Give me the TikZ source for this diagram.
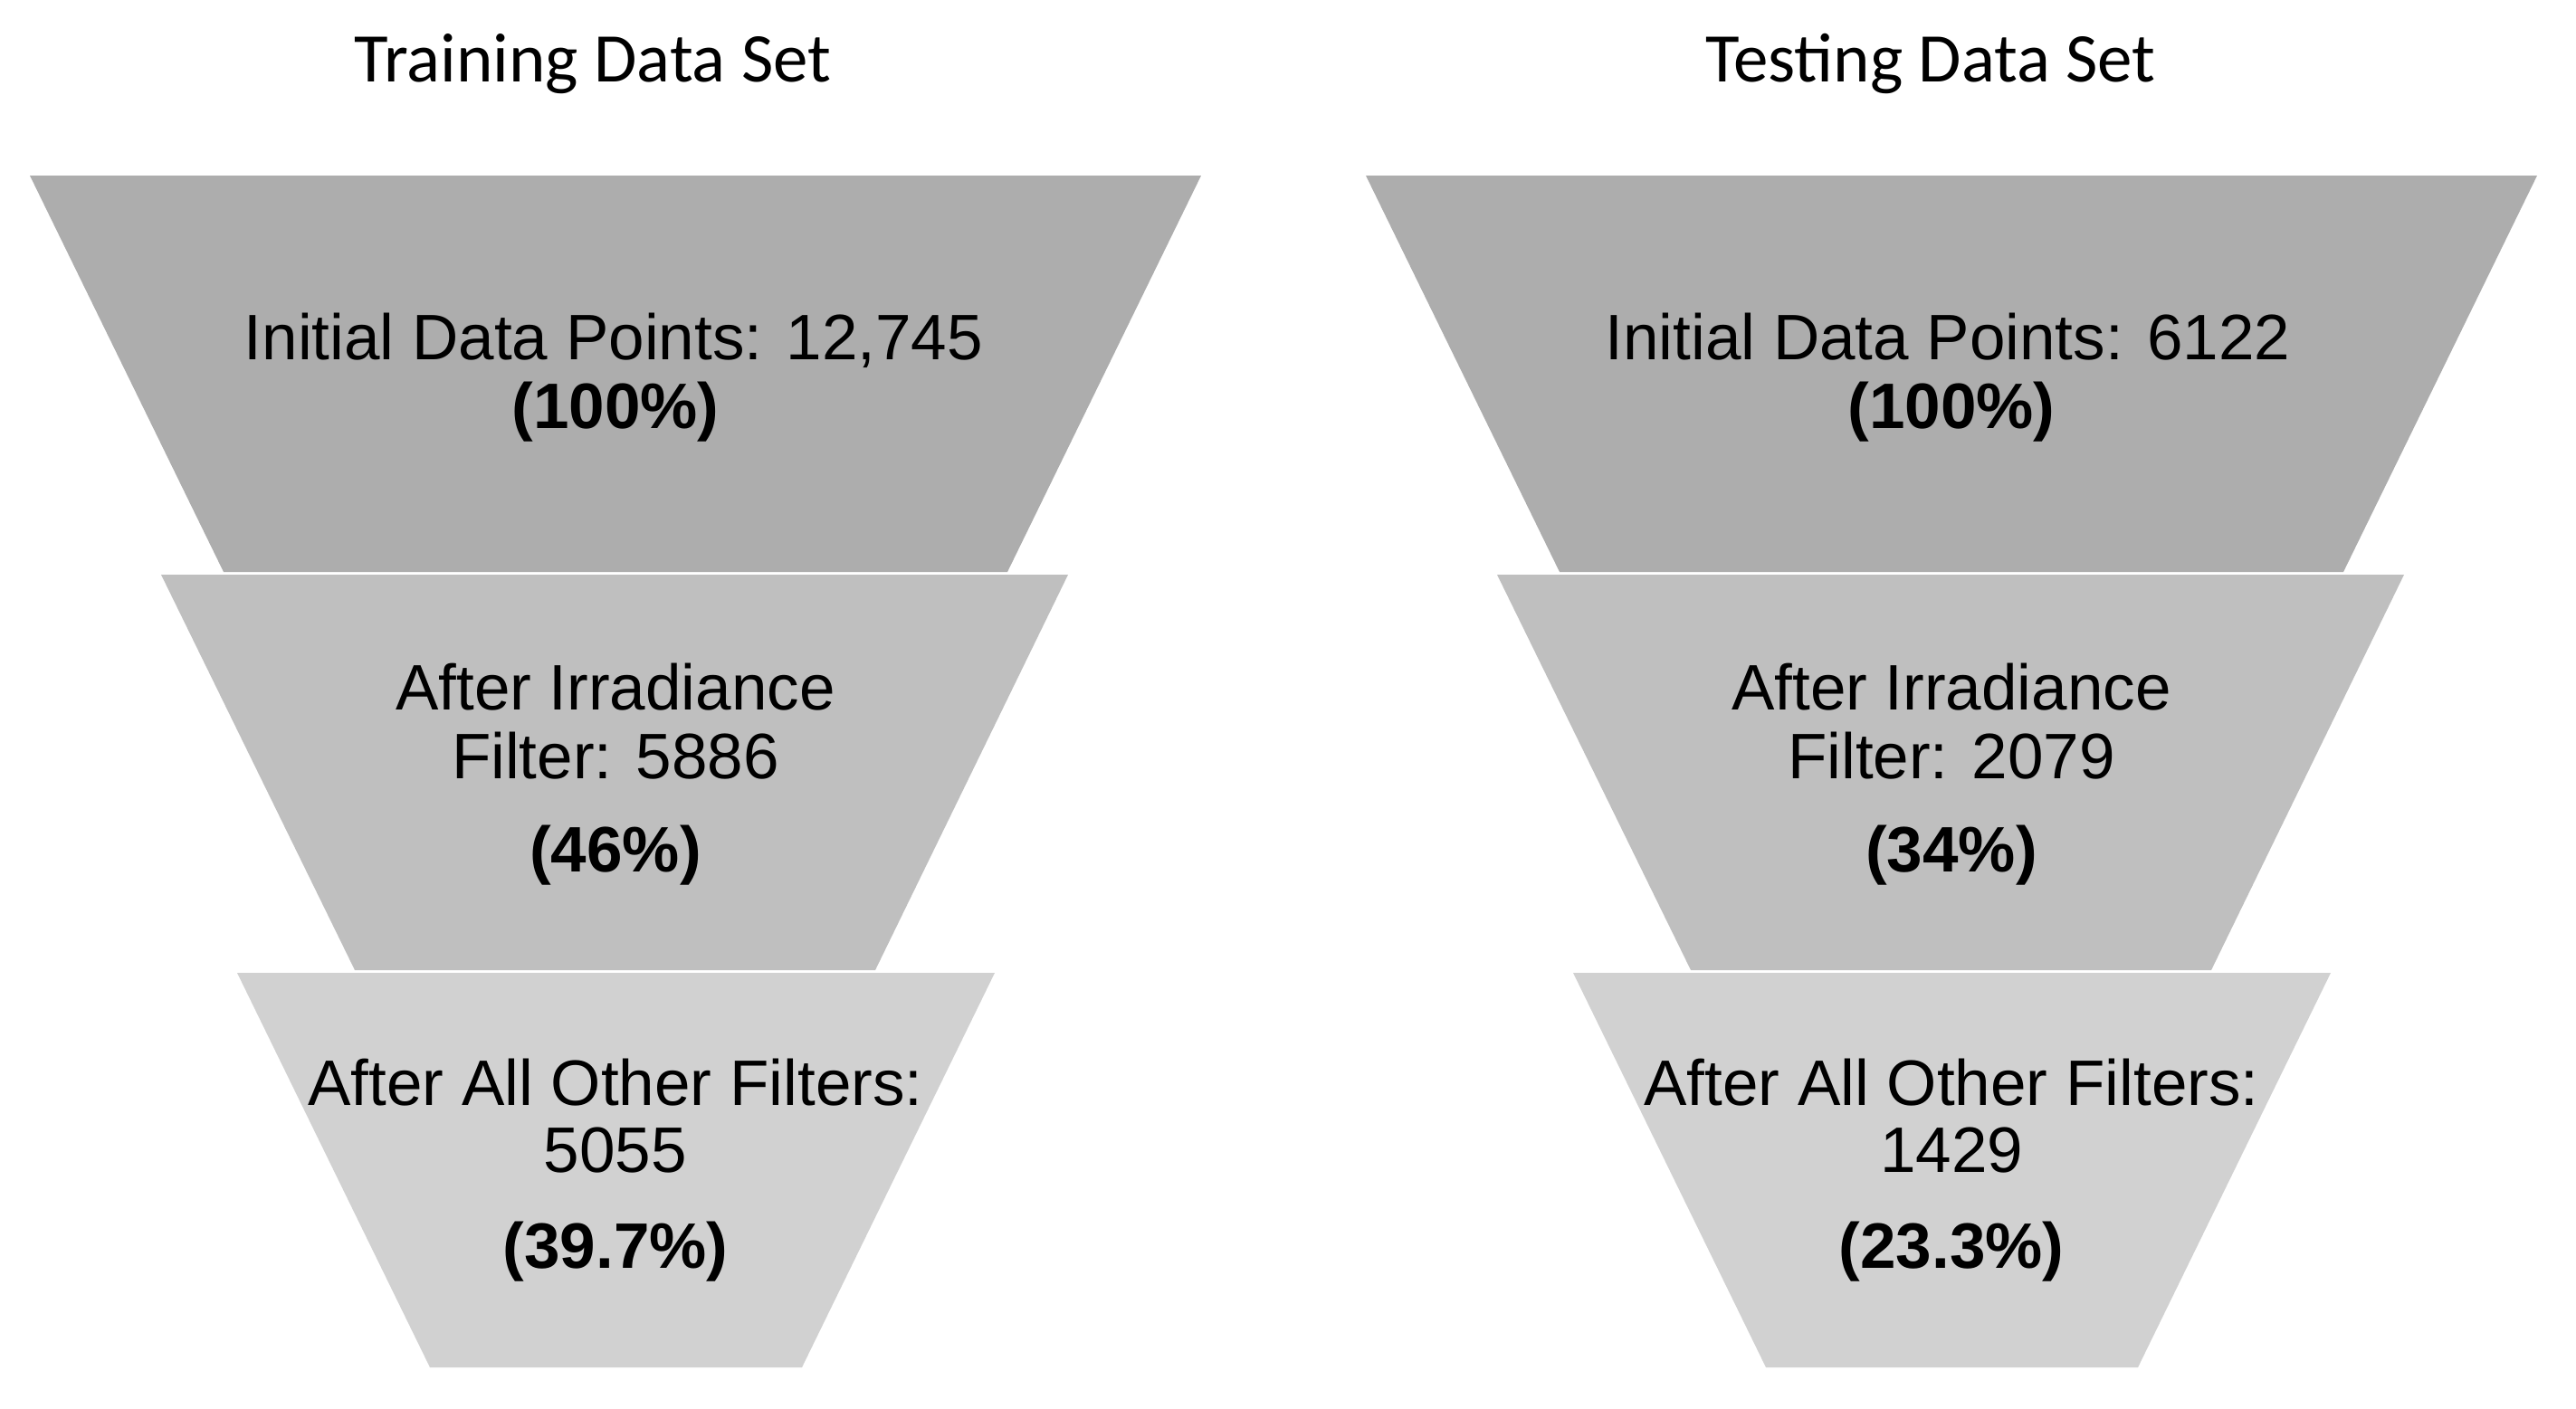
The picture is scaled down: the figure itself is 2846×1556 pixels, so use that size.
\documentclass[tikz,border=0pt]{standalone}
\usepackage{fontspec}
\setmainfont{Liberation Sans}
\newfontfamily\titlefont{Carlito}
\definecolor{gA}{HTML}{ADADAD}
\definecolor{gB}{HTML}{BFBFBF}
\definecolor{gC}{HTML}{D1D1D1}
\begin{document}
\begin{tikzpicture}[x=0.01cm,y=-0.01cm,
  lbl/.style={anchor=base,inner sep=0pt,font=\fontsize{20.2pt}{24pt}\selectfont},
  lblb/.style={lbl,font=\fontsize{20.2pt}{24pt}\selectfont\bfseries},
  ttl/.style={anchor=base,inner sep=0pt,font=\titlefont\fontsize{21.9pt}{26pt}\selectfont}]
\useasboundingbox (0,0) rectangle (2846,1556);
\fill[white] (0,0) rectangle (2846,1556);
\foreach \dx in {0,1476}{
  \fill[gA] (33+\dx,194) -- (1327+\dx,194) -- (1113+\dx,632) -- (247+\dx,632) -- cycle;
  \fill[gB] (178+\dx,635) -- (1180+\dx,635) -- (967+\dx,1072) -- (392+\dx,1072) -- cycle;
  \fill[gC] (262+\dx,1075) -- (1099+\dx,1075) -- (886+\dx,1511) -- (475+\dx,1511) -- cycle;
}
% titles
\node[ttl] (ttrain) at (655,90) {Training Data Set};
\node[ttl] (ttest) at (2133,90) {Testing Data Set};
% left funnel
\node[lbl]  (la1) at (678,397) {Initial Data Points: 12,745};
\node[lblb] (la2) at (680,473) {(100\%)};
\node[lbl]  (lb1) at (680,784) {After Irradiance};
\node[lbl]  (lb2) at (680,860) {Filter: 5886};
\node[lblb] (lb3) at (680,963) {(46\%)};
\node[lbl]  (lc1) at (680,1221) {After All Other Filters:};
\node[lbl]  (lc2) at (680,1295) {5055};
\node[lblb] (lc3) at (680,1401) {(39.7\%)};
% right funnel
\node[lbl]  (ra1) at (2152,397) {Initial Data Points: 6122};
\node[lblb] (ra2) at (2156,473) {(100\%)};
\node[lbl]  (rb1) at (2156,784) {After Irradiance};
\node[lbl]  (rb2) at (2156,860) {Filter: 2079};
\node[lblb] (rb3) at (2156,963) {(34\%)};
\node[lbl]  (rc1) at (2156,1221) {After All Other Filters:};
\node[lbl]  (rc2) at (2156,1295) {1429};
\node[lblb] (rc3) at (2156,1401) {(23.3\%)};
\end{tikzpicture}
\end{document}
